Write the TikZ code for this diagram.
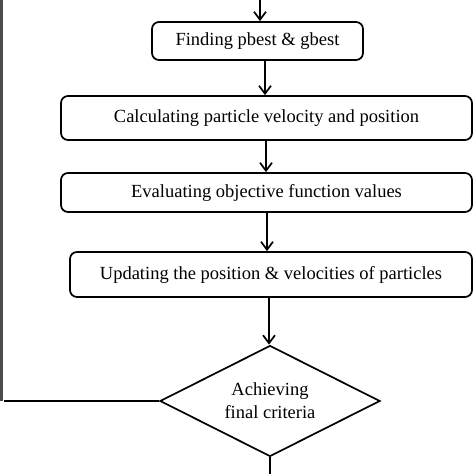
\documentclass[tikz,border=0pt]{standalone}
\usepackage{fontspec}
\setmainfont{Liberation Serif}
\usetikzlibrary{shapes.geometric,arrows.meta}
\begin{document}
\begin{tikzpicture}[x=1pt,y=-1pt,
  every node/.style={font=\fontsize{18.5}{23}\selectfont},
  procbox/.style={draw,line width=1.7pt,rounded corners=7pt,inner sep=0pt},
  decide/.style={draw,line width=1.7pt,diamond,aspect=2,inner sep=0pt,
    minimum width=220pt,minimum height=111pt,align=center},
  arr/.style={line width=1.7pt,-{Straight Barb[length=8pt,width=12pt]}},
  conn/.style={line width=1.7pt}]
\useasboundingbox (0,0) rectangle (474,474);
\node[procbox,minimum width=211pt,minimum height=38pt] (b1) at (257.5,41) {Finding pbest \& gbest};
\node[procbox,minimum width=411pt,minimum height=44pt] (b2) at (266.5,118) {Calculating particle velocity and position};
\node[procbox,minimum width=411pt,minimum height=39pt] (b3) at (266.5,192.5) {Evaluating objective function values};
\node[procbox,minimum width=402pt,minimum height=45pt] (b4) at (271,274.5) {Updating the position \& velocities of particles};
\node[decide] (d) at (270,401) {Achieving\\final criteria};
\coordinate (top) at (260,0);
\coordinate (bot) at (270,474);
\coordinate (lc) at (4,401);
\coordinate (barb) at (1.5,401);
\coordinate (bart) at (1.5,0);
\draw[arr] (top) -- (top |- b1.north);
\draw[arr] ([xshift=7.5pt]b1.south) -- ([xshift=7.5pt]b1.south |- b2.north);
\draw[arr] ([xshift=-0.5pt]b2.south) -- ([xshift=-0.5pt]b2.south |- b3.north);
\draw[arr] ([xshift=0.5pt]b3.south) -- ([xshift=0.5pt]b3.south |- b4.north);
\draw[arr] ([xshift=-2pt]b4.south) -- ([xshift=-2pt]b4.south |- d.north);
\draw[conn] (d.south) -- (bot);
\draw[conn] (d.west) -- (lc);
\draw[line width=3pt,gray!60!black] (barb) -- (bart);
\end{tikzpicture}
\end{document}
